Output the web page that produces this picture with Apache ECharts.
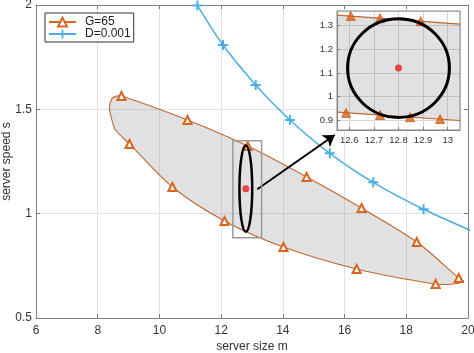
<!DOCTYPE html>
<html>
<head>
<meta charset="utf-8">
<script src="https://cdn.jsdelivr.net/npm/echarts@6/dist/echarts.min.js"></script>
<style>
  html, body { margin: 0; padding: 0; background: #fff; }
  #chart { width: 474px; height: 353px; }
</style>
</head>
<body>
<div id="chart"></div>
<script>
// G=65 region outline (clockwise from left tip)
var ellipseX = [8.38, 8.45, 8.58, 8.77, 10.91, 12.86, 14.77, 16.55, 18.34, 19.70, 19.85, 19.51, 18.95, 16.39, 14.02, 12.11, 10.42, 9.03, 8.58, 8.44];
var ellipseY = [1.510, 1.548, 1.562, 1.564, 1.449, 1.324, 1.176, 1.027, 0.864, 0.692, 0.676, 0.663, 0.663, 0.735, 0.840, 0.965, 1.128, 1.334, 1.401, 1.460];
// triangle markers on that outline
var gMarkX = [8.77, 10.91, 12.86, 14.77, 16.55, 18.34, 19.70, 18.95, 16.39, 14.02, 12.11, 10.42, 9.03];
var gMarkY = [1.564, 1.449, 1.324, 1.176, 1.027, 0.864, 0.692, 0.663, 0.735, 0.840, 0.965, 1.128, 1.334];
// D=0.001 curve
var dX = [11.23, 12.06, 13.12, 14.23, 15.52, 16.93, 18.56, 20.35];
var dY = [1.998, 1.808, 1.617, 1.449, 1.289, 1.150, 1.021, 0.903];
// operating point and its confidence circle (radius in data units)
var opPoint = [12.80, 1.12];
var opRadius = 0.207;
// zoom box and arrow
var zoomBox = [12.38, 0.885, 13.31, 1.350];
var arrowFrom = [13.17, 1.117];
var arrowTo = [15.68, 1.377];
// inset limits and data
var insetXLim = [12.55, 13.05];
var insetYLim = [0.86, 1.36];
var insetUpX = [12.55, 13.05], insetUpY = [1.343, 1.305];
var insetLoX = [12.55, 13.05], insetLoY = [0.935, 0.900];
var insetUpMarkX = [12.606, 12.725, 12.890], insetUpMarkY = [1.339, 1.330, 1.317];
var insetLoMarkX = [12.587, 12.725, 12.847, 12.969], insetLoMarkY = [0.932, 0.923, 0.914, 0.906];
// main axis limits
var xLim = [6, 20], yLim = [0.5, 2];

var ORANGE = '#D9651E';
var EDGE = '#C0662F';
var BLUE = '#4DAEE3';
var FILL = 'rgba(120,120,120,0.22)';
var AXC = '#7f7f7f';
var TXT = '#333';
var GRIDC = '#e3e3e3';
var PLUS = 'path://M-1,-5H1V-1H5V1H1V5H-1V1H-5V-1H-1Z';

function zip(xs, ys) {
  return xs.map(function (x, i) { return [x, ys[i]]; });
}

var myChart = echarts.init(document.getElementById('chart'));

function polyRender(xs, ys, style, smooth) {
  return function (params, api) {
    if (params.dataIndex !== 0) return;
    var pts = xs.map(function (x, i) { return api.coord([x, ys[i]]); });
    return { type: 'polygon', shape: { points: pts, smooth: smooth }, style: style };
  };
}

function ellipseRender(lw) {
  return function (params, api) {
    var c = api.coord([api.value(0), api.value(1)]);
    var s = api.size([api.value(2), api.value(2)]);
    return {
      type: 'ellipse',
      shape: { cx: c[0], cy: c[1], rx: s[0], ry: s[1] },
      style: { fill: 'none', stroke: '#000', lineWidth: lw }
    };
  };
}

function rectRender(style) {
  return function (params, api) {
    var p0 = api.coord([api.value(0), api.value(3)]);
    var p1 = api.coord([api.value(2), api.value(1)]);
    return {
      type: 'rect',
      shape: { x: p0[0], y: p0[1], width: p1[0] - p0[0], height: p1[1] - p0[1] },
      style: style
    };
  };
}

var fontFam = 'Liberation Sans, Arial, Helvetica, sans-serif';

var option = {
  animation: false,
  textStyle: { fontFamily: fontFam },
  grid: [
    { left: 36, top: 5, right: 6, bottom: 35, outerBoundsMode: 'none' },
    { left: 337, top: 11, width: 123, height: 119, outerBoundsMode: 'none' }
  ],
  legend: {
    data: ['G=65', 'D=0.001'],
    orient: 'vertical',
    left: 45,
    top: 13,
    itemWidth: 27,
    itemHeight: 11,
    itemGap: 0,
    padding: [3, 3, 2, 3],
    borderColor: '#333',
    borderWidth: 1,
    backgroundColor: '#fff',
    lineStyle: { opacity: 1 },
    textStyle: { fontSize: 12, color: '#222', lineHeight: 12, padding: [0, 0, 0, 4] }
  },
  xAxis: [
    {
      gridIndex: 0, type: 'value', min: xLim[0], max: xLim[1], interval: 2,
      name: 'server size m', nameLocation: 'middle', nameGap: 23, nameMoveOverlap: false,
      nameTextStyle: { fontSize: 12, color: TXT },
      axisLine: { lineStyle: { color: AXC } },
      axisTick: { inside: true, length: 4, lineStyle: { color: AXC } },
      axisLabel: { fontSize: 12, color: TXT, margin: 7 },
      splitLine: { show: true, lineStyle: { color: GRIDC } }
    },
    {
      gridIndex: 1, type: 'value', min: insetXLim[0], max: insetXLim[1], splitNumber: 5, z: 3,
      axisLine: { lineStyle: { color: AXC } },
      axisTick: { inside: true, length: 3, lineStyle: { color: AXC } },
      axisLabel: { fontSize: 9.5, color: TXT, margin: 5, showMinLabel: false, showMaxLabel: false },
      splitLine: { show: true, lineStyle: { color: '#d6d6d6' } }
    },
    {
      gridIndex: 0, type: 'value', position: 'top', min: xLim[0], max: xLim[1], interval: 2,
      axisLine: { lineStyle: { color: AXC } },
      axisTick: { inside: true, length: 4, lineStyle: { color: AXC } },
      axisLabel: { show: false },
      splitLine: { show: false }
    }
  ],
  yAxis: [
    {
      gridIndex: 0, type: 'value', min: yLim[0], max: yLim[1], interval: 0.5,
      name: 'server speed s', nameLocation: 'middle', nameGap: 23, nameMoveOverlap: false,
      nameTextStyle: { fontSize: 12, color: TXT },
      axisLine: { show: true, lineStyle: { color: AXC } },
      axisTick: { show: true, inside: true, length: 4, lineStyle: { color: AXC } },
      axisLabel: { fontSize: 12, color: TXT, margin: 4 },
      splitLine: { show: true, lineStyle: { color: GRIDC } }
    },
    {
      gridIndex: 1, type: 'value', min: insetYLim[0], max: insetYLim[1], splitNumber: 5, z: 3,
      axisLine: { show: true, lineStyle: { color: AXC } },
      axisTick: { show: true, inside: true, length: 3, lineStyle: { color: AXC } },
      axisLabel: { fontSize: 9.5, color: TXT, margin: 4, showMinLabel: false, showMaxLabel: false },
      splitLine: { show: true, lineStyle: { color: '#d6d6d6' } }
    },
    {
      gridIndex: 0, type: 'value', position: 'right', min: yLim[0], max: yLim[1], interval: 0.5,
      axisLine: { show: true, lineStyle: { color: AXC } },
      axisTick: { show: true, inside: true, length: 4, lineStyle: { color: AXC } },
      axisLabel: { show: false },
      splitLine: { show: false }
    }
  ],
  series: [
    // main plot
    {
      type: 'custom', xAxisIndex: 0, yAxisIndex: 0, silent: true, z: 2,
      data: zip(ellipseX, ellipseY),
      renderItem: polyRender(ellipseX, ellipseY, { fill: FILL, stroke: EDGE, lineWidth: 1.1 }, 0.3)
    },
    {
      name: 'D=0.001', type: 'line', xAxisIndex: 0, yAxisIndex: 0, silent: true, z: 3,
      data: zip(dX, dY), smooth: 0.3,
      symbol: PLUS, symbolSize: 10, showAllSymbol: true,
      itemStyle: { color: BLUE },
      lineStyle: { color: BLUE, width: 1.5 }
    },
    {
      name: 'G=65', type: 'line', xAxisIndex: 0, yAxisIndex: 0, silent: true, z: 4,
      data: zip(gMarkX, gMarkY),
      symbol: 'triangle', symbolSize: 8, showAllSymbol: true,
      itemStyle: { color: '#fff', borderColor: ORANGE, borderWidth: 2 },
      lineStyle: { color: ORANGE, width: 2, opacity: 0 }
    },
    {
      type: 'custom', xAxisIndex: 0, yAxisIndex: 0, silent: true, z: 5,
      data: [zoomBox],
      renderItem: rectRender({ fill: 'none', stroke: '#9a9a9a', lineWidth: 1.5 })
    },
    {
      type: 'custom', xAxisIndex: 0, yAxisIndex: 0, silent: true, z: 6,
      data: [[opPoint[0], opPoint[1], opRadius]],
      renderItem: ellipseRender(2.5)
    },
    {
      type: 'scatter', xAxisIndex: 0, yAxisIndex: 0, silent: true, z: 7,
      data: [opPoint], symbolSize: 7, itemStyle: { color: '#ec1c24' },
      markLine: {
        silent: true, symbol: ['none', 'arrow'], symbolSize: 11,
        lineStyle: { color: '#000', width: 2, type: 'solid' },
        label: { show: false },
        data: [[{ coord: arrowFrom }, { coord: arrowTo }]]
      }
    },
    // inset
    {
      type: 'custom', xAxisIndex: 1, yAxisIndex: 1, silent: true, z: 2,
      data: [[insetXLim[0], insetYLim[0], insetXLim[1], insetYLim[1]]],
      renderItem: rectRender({ fill: '#fff' })
    },
    {
      type: 'custom', xAxisIndex: 1, yAxisIndex: 1, silent: true, z: 4,
      data: zip(insetUpX, insetUpY),
      renderItem: polyRender(insetUpX.concat(insetLoX.slice().reverse()),
        insetUpY.concat(insetLoY.slice().reverse()), { fill: FILL }, 0)
    },
    {
      type: 'line', xAxisIndex: 1, yAxisIndex: 1, silent: true, z: 5,
      data: zip(insetUpX, insetUpY), symbol: 'none',
      lineStyle: { color: EDGE, width: 1.2 }
    },
    {
      type: 'line', xAxisIndex: 1, yAxisIndex: 1, silent: true, z: 5,
      data: zip(insetLoX, insetLoY), symbol: 'none',
      lineStyle: { color: EDGE, width: 1.2 }
    },
    {
      type: 'scatter', xAxisIndex: 1, yAxisIndex: 1, silent: true, z: 6,
      data: zip(insetUpMarkX, insetUpMarkY).concat(zip(insetLoMarkX, insetLoMarkY)),
      symbol: 'triangle', symbolSize: 9,
      itemStyle: { color: ORANGE, borderColor: '#c85a14', borderWidth: 1 }
    },
    {
      type: 'custom', xAxisIndex: 1, yAxisIndex: 1, silent: true, z: 7,
      data: [[opPoint[0], opPoint[1], opRadius]],
      renderItem: ellipseRender(3)
    },
    {
      type: 'scatter', xAxisIndex: 1, yAxisIndex: 1, silent: true, z: 8,
      data: [opPoint], symbolSize: 7, itemStyle: { color: '#ec1c24' }
    },
    {
      type: 'custom', xAxisIndex: 1, yAxisIndex: 1, silent: true, z: 9,
      data: [[insetXLim[0], insetYLim[0], insetXLim[1], insetYLim[1]]],
      renderItem: rectRender({ fill: 'none', stroke: '#8a8a8a', lineWidth: 1 })
    }
  ]
};

myChart.setOption(option);
</script>
</body>
</html>
